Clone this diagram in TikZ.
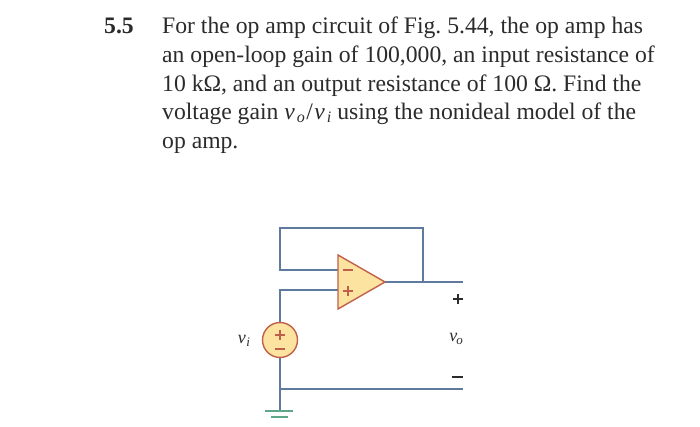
\documentclass[tikz,border=0pt]{standalone}
\usepackage{fontspec}
\setmainfont{Liberation Serif}
\usetikzlibrary{calc}
\definecolor{wire}{HTML}{5E7A9C}
\definecolor{edge}{HTML}{C0604A}
\definecolor{fillc}{HTML}{FCE3A0}
\definecolor{gnd}{HTML}{5FA588}
\definecolor{ink}{HTML}{2B2B2B}
\frenchspacing
\tikzset{
  x=1pt,y=-1pt,
  line/.style={anchor=base west,inner sep=0pt,font=\fontsize{23.65}{28}\selectfont,text=ink},
  wireline/.style={draw=wire,line width=1.5pt},
  gndline/.style={draw=gnd,line width=1.5pt},
  part/.style={draw=edge,line width=1.4pt,fill=fillc},
  lab/.style={inner sep=0pt,font=\fontsize{18}{18}\selectfont\itshape,text=ink},
}
\begin{document}
\begin{tikzpicture}
\useasboundingbox (0,0) rectangle (700,427);
\fill[white] (0,0) rectangle (700,427);
\node[line,font=\fontsize{23.65}{28}\selectfont\bfseries] (num) at (104,34) {5.5};
\node[line] (l1) at (162,34) {For the op amp circuit of Fig. 5.44, the op amp has};
\node[line] (l2) at (162,63) {an open-loop gain of 100,000, an input resistance of};
\node[line] (l3) at (162,91.5) {10 kΩ, and an output resistance of 100 Ω. Find the};
\node[line] (l4) at (162,120) {voltage gain \textit{v}\kern2pt\raisebox{-3pt}{\fontsize{16}{16}\selectfont\textit{o}}\kern1.5pt/\kern1.5pt\textit{v}\kern2pt\raisebox{-3pt}{\fontsize{16}{16}\selectfont\textit{i}} using the nonideal model of the};
\node[line] (l5) at (162,149) {op amp.};
% coordinates
\coordinate (mi) at (338,270);
\coordinate (pi) at (338,290);
\coordinate (tip) at (385,282);
\coordinate (tl) at (280,228);
\coordinate (tr) at (423,228);
\coordinate (fl) at (280,270);
\coordinate (oj) at (423,282);
\coordinate (oe) at (463,282);
\coordinate (pl) at (280,290);
\coordinate (sj) at (280,389);
\coordinate (be) at (463,389);
\coordinate (g) at (280,411);
\coordinate (g1a) at (265,411);
\coordinate (g1b) at (293,411);
\coordinate (g2a) at (271,417);
\coordinate (g2b) at (288,417);
% wires
\draw[wireline] (mi) -- (fl) -- (tl) -- (tr) -- (oj);
\draw[wireline] (tip) -- (oe);
\node[circle,part,minimum size=35pt,inner sep=0pt] (src) at (280,340) {};
\draw[wireline] (pi) -- (pl) -- (src.north);
\draw[wireline] (src.south) -- (g);
\draw[wireline] (sj) -- (be);
\draw[gndline] (g1a) -- (g1b);
\draw[gndline] (g2a) -- (g2b);
% op amp
\draw[part,line join=miter] (338,255) -- (385,282) -- (338,309) -- cycle;
\draw[edge,line width=1.2pt] (343,270) -- (353,270);
\draw[edge,line width=1.2pt] (343,291) -- (353,291) (348,286) -- (348,296);
% source signs
\draw[edge,line width=1.2pt] (275,335) -- (285,335) (280,330) -- (280,340);
\draw[edge,line width=1.2pt] (275,349) -- (285,349);
% output signs
\draw[ink,line width=1.2pt] (453,299) -- (463,299) (458,294) -- (458,304);
\draw[ink,line width=1.2pt] (452,377) -- (463,377);
\node[lab] (vi) at (244,341) {v\kern0.5pt\raisebox{-3pt}{\fontsize{13}{13}\selectfont i}};
\node[lab] (vo) at (456,339) {v\kern-1pt\raisebox{-3pt}{\fontsize{13}{13}\selectfont o}};
\end{tikzpicture}
\end{document}
